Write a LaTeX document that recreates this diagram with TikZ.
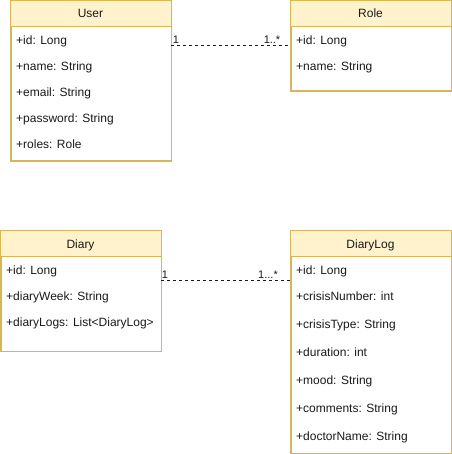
\documentclass[tikz,border=0pt]{standalone}
\usepackage{fontspec}
\setmainfont{Liberation Sans}
\definecolor{hdrfill}{HTML}{FFF2CC}
\definecolor{hdrline}{HTML}{D6B656}
\definecolor{txt}{HTML}{1A1A1A}
\begin{document}
\begin{tikzpicture}[x=1pt,y=-1pt,
  classbox/.style={draw=hdrline, line width=0.9pt, fill=white, rectangle, anchor=north west, inner sep=0pt},
  hdr/.style={font=\fontsize{12}{14}\selectfont, text=txt, anchor=base, inner sep=0pt},
  attr/.style={font=\fontsize{12}{14}\selectfont, text=txt, anchor=base west, inner sep=0pt},
  mult/.style={font=\fontsize{11}{13}\selectfont, text=txt, inner sep=0pt, anchor=base},
  assoc/.style={dashed, dash pattern=on 3pt off 3pt, line width=0.8pt, draw=txt}]
\useasboundingbox (0,0) rectangle (451,454);
% ---- class boxes
\node[classbox, minimum width=160pt, minimum height=160pt] (user) at (10.5,0.5) {};
\node[classbox, minimum width=160pt, minimum height=90pt] (role) at (290.5,0.5) {};
\node[classbox, minimum width=160pt, minimum height=120pt] (diary) at (0.5,230.5) {};
\node[classbox, minimum width=160pt, minimum height=222pt] (dlog) at (290.5,230.5) {};
% headers
\foreach \b in {user,role,diary,dlog}{
  \fill[hdrfill] ([xshift=0.5pt,yshift=-0.5pt]\b.north west) rectangle ([xshift=-0.5pt,yshift=-26pt]\b.north east);
  \draw[hdrline, line width=0.9pt] ([yshift=-26pt]\b.north west) -- ([yshift=-26pt]\b.north east);
  \draw[hdrline, line width=0.9pt] (\b.north west) rectangle (\b.south east);
}
\node[hdr] (userT) at (90.5,18) {User};
\node[hdr] (roleT) at (370.5,18) {Role};
\node[hdr] (diaryT) at (80.5,248) {Diary};
\node[hdr] (dlogT) at (370.5,248) {DiaryLog};
% attributes
\node[attr] (u1) at (16,44.5) {+id: Long};
\node[attr] (u2) at (16,70.5) {+name: String};
\node[attr] (u3) at (16,96.5) {+email: String};
\node[attr] (u4) at (16,122.5) {+password: String};
\node[attr] (u5) at (16,148.5) {+roles: Role};
\node[attr] (r1) at (296,44.5) {+id: Long};
\node[attr] (r2) at (296,70.5) {+name: String};
\node[attr] (d1) at (6,274) {+id: Long};
\node[attr] (d2) at (6,300) {+diaryWeek: String};
\node[attr] (d3) at (6,326) {+diaryLogs: List<DiaryLog>};
\node[attr] (l1) at (296,274) {+id: Long};
\node[attr] (l2) at (296,300.5) {+crisisNumber: int};
\node[attr] (l3) at (296,328.5) {+crisisType: String};
\node[attr] (l4) at (296,356.5) {+duration: int};
\node[attr] (l5) at (296,384) {+mood: String};
\node[attr] (l6) at (296,412) {+comments: String};
\node[attr] (l7) at (296,440) {+doctorName: String};
% associations
\draw[assoc] ([yshift=-44.5pt]user.north east) -- ([yshift=-44.5pt]role.north west);
\draw[assoc] ([yshift=-49.5pt]diary.north east) -- ([yshift=-49.5pt]dlog.north west);
\node[mult] (m1) at (176,44) {1};
\node[mult] (m2) at (272,44) {1..*};
\node[mult] (m3) at (165,278) {1};
\node[mult] (m4) at (268,278) {1...*};
\end{tikzpicture}
\end{document}
